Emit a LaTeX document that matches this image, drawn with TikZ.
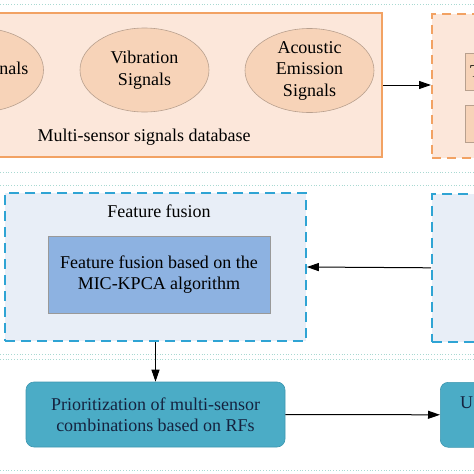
\documentclass[tikz,border=0pt]{standalone}
\usepackage{fontspec}
\setmainfont{Liberation Serif}
\usetikzlibrary{shapes.geometric}
\usetikzlibrary{arrows.meta}
\definecolor{sepline}{HTML}{A9D9D2}
\definecolor{orangeline}{HTML}{F2A263}
\definecolor{orangefill}{HTML}{FCE7DA}
\definecolor{peach}{HTML}{F7D3B8}
\definecolor{peachline}{HTML}{B8A08E}
\definecolor{blueline}{HTML}{2FA4D4}
\definecolor{bluefill}{HTML}{E8EEF7}
\definecolor{mainblue}{HTML}{8DB2E1}
\definecolor{tealbox}{HTML}{4BACC6}
\definecolor{tealline}{HTML}{3E97B0}
\definecolor{navytext}{HTML}{15233F}
\tikzset{
	txt/.style = {font=\fontsize{18}{21.5}\selectfont, align=center, inner sep=0pt},
	signal/.style = {txt, ellipse, draw=peachline, fill=peach, line width=0.6pt,
		minimum width=129, minimum height=84},
	database/.style = {draw=orangeline, fill=orangefill, line width=2.2pt},
	stagebox/.style = {draw=orangeline, fill=orangefill, line width=1.6pt, dash pattern=on 9pt off 6pt},
	smallbox/.style = {draw=peachline, fill=peach, line width=0.6pt},
	fusionbox/.style = {draw=blueline, fill=bluefill, line width=1.6pt, dash pattern=on 10pt off 6pt},
	algobox/.style = {txt, draw=gray!80, fill=mainblue, line width=0.6pt},
	rankbox/.style = {txt, draw=tealline, fill=tealbox, text=navytext, rounded corners=8pt, line width=0.6pt},
	flow/.style = {line width=1pt, -{Triangle[length=12pt, width=8pt]}},
	sep/.style = {draw=sepline, line width=0.8pt, dotted}
}
\begin{document}
\begin{tikzpicture}[x=1pt, y=-1pt]
	\useasboundingbox (0, 0) rectangle (474, 474);
	\clip (0, 0) rectangle (474, 474);
	\foreach \y in {4, 172, 185, 354, 359, 470}
	{
		\draw[sep] (0, \y) -- (474, \y);
	}
	% signals
	\node[database, minimum width=392, minimum height=144] (db) at (186, 85) {};
	\node[signal] (s1) at (-21, 70) {};
	\node[txt, anchor=east] (s1txt) at (28.5, 70) {Signals};
	\node[signal] (s2) at (144.5, 70) {Vibration\\Signals};
	\node[signal] (s3) at (309.5, 70.5) {Acoustic\\Emission\\Signals};
	\node[txt] (dblabel) at (144, 137) {Multi-sensor signals database};
	\node[stagebox, minimum width=80, minimum height=144, anchor=north west] (st) at (431, 13) {};
	\node[smallbox, minimum width=40, minimum height=37, anchor=north west] (sta) at (465, 53) {};
	\node[smallbox, minimum width=40, minimum height=37, anchor=north west] (stb) at (465, 105) {};
	\node[txt, anchor=west] (statxt) at (470, 72) {T};
	\draw[flow] (db.east |- 0, 85) -- (st.west |- 0, 85);
	% fusion
	\node[fusionbox, minimum width=301, minimum height=148] (fus) at (155.5, 267) {};
	\node[txt] (fuslabel) at (159, 211) {Feature fusion};
	\node[algobox, minimum width=222, minimum height=77] (mic) at (159, 274.5) {Feature fusion based on the\\MIC-KPCA algorithm};
	\node[fusionbox, minimum width=80, minimum height=148, anchor=north west] (ext) at (431, 193) {};
	\draw[flow] (ext.west) -- (fus.east);
	% ranking
	\node[rankbox, minimum width=259, minimum height=65] (rf) at (155.5, 414.5) {Prioritization of multi-sensor\\combinations based on RFs};
	\node[rankbox, minimum width=80, minimum height=65, anchor=north west] (use) at (440, 382) {};
	\node[txt, text=navytext] (usetxt) at (466.5, 403) {U};
	\draw[flow] (fus.south) -- (rf.north);
	\draw[flow] (rf.east) -- (use.west);
\end{tikzpicture}
\end{document}
